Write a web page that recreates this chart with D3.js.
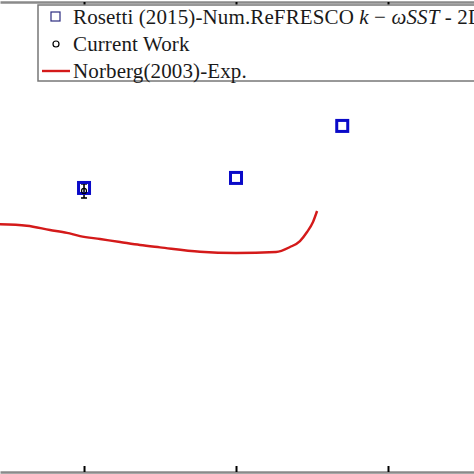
<!DOCTYPE html>
<html>
<head>
<meta charset="utf-8">
<script src="https://cdn.jsdelivr.net/npm/d3@7"></script>
<style>
    html, body { margin: 0; padding: 0; background: #fff; }
    svg { display: block; }
</style>
</head>
<body>
<svg id="chart"></svg>
<script>
// Norberg (2003) experimental curve
let norbergRe = [2800, 4200, 5970, 7730, 9410, 12740, 17260, 23360, 31620, 57940, 100000, 183300, 226500, 263500, 293300, 321000, 341400];
let norbergSt = [0.2081, 0.2072, 0.2045, 0.2026, 0.2006, 0.1987, 0.1968, 0.1949, 0.1934, 0.1906, 0.1898, 0.1904, 0.1936, 0.1974, 0.2032, 0.2096, 0.2166];

// Rosetti (2015) ReFRESCO k-w SST 2D
let rosettiRe = [10000, 100000, 500000];
let rosettiSt = [0.2313, 0.2377, 0.2709];

// current work
let currentRe = [10000];
let currentSt = [0.2294];
let currentErr = [0.0045];

let xTicks = [1e4, 1e5, 1e6];
let legendLabels = ["Rosetti (2015)-Num.ReFRESCO", "Current Work", "Norberg(2003)-Exp."];

window.onload = () =>
{
    let width = 474;
    let height = 474;
    let top = 2, bottom = 472;

    let x = d3.scaleLog([2800, 3.68e6], [0, width]);
    let y = d3.scaleLinear([0.05, 0.35], [bottom, top]);

    let svg = d3.select("#chart").attr("width", width).attr("height", height);

    // frame: top and bottom axes, ticks pointing in
    let axTop = svg.append("g").attr("transform", `translate(0,${top})`)
        .call(d3.axisTop(x).tickValues(xTicks).tickFormat("").tickSizeInner(-6).tickSizeOuter(0));
    let axBottom = svg.append("g").attr("transform", `translate(0,${bottom})`)
        .call(d3.axisBottom(x).tickValues(xTicks).tickFormat("").tickSizeInner(-6).tickSizeOuter(0));
    [axTop, axBottom].forEach(g =>
    {
        g.select(".domain").attr("stroke", "#8a8a8a").attr("stroke-width", 2.5);
        g.selectAll(".tick line").attr("stroke", "#000").attr("stroke-width", 2);
    });

    // Norberg line
    let norberg = norbergRe.map((r, i) => [r, norbergSt[i]]);
    svg.append("path")
        .datum(norberg)
        .attr("fill", "none")
        .attr("stroke", "#d41a1a")
        .attr("stroke-width", 2.4)
        .attr("d", d3.line().x(d => x(d[0])).y(d => y(d[1])).curve(d3.curveMonotoneX));

    // error bars of current work
    let cur = currentRe.map((r, i) => ({re: r, st: currentSt[i], err: currentErr[i]}));
    let eb = svg.append("g").attr("stroke", "#000").attr("stroke-width", 1.6);
    eb.selectAll("line.stem").data(cur).join("line")
        .attr("x1", d => x(d.re)).attr("x2", d => x(d.re))
        .attr("y1", d => y(d.st + d.err)).attr("y2", d => y(d.st - d.err));
    eb.selectAll("line.cap").data(cur.flatMap(d => [d.st + d.err, d.st - d.err].map(v => ({re: d.re, v}))))
        .join("line")
        .attr("x1", d => x(d.re) - 3).attr("x2", d => x(d.re) + 3)
        .attr("y1", d => y(d.v)).attr("y2", d => y(d.v));

    // Rosetti squares
    let ros = rosettiRe.map((r, i) => [r, rosettiSt[i]]);
    svg.append("g").selectAll("rect").data(ros).join("rect")
        .attr("x", d => x(d[0]) - 5.5)
        .attr("y", d => y(d[1]) - 5.5)
        .attr("width", 11).attr("height", 11)
        .attr("fill", "none")
        .attr("stroke", "#0a0ac8")
        .attr("stroke-width", 3);

    // current work circles
    svg.append("g").selectAll("circle").data(cur).join("circle")
        .attr("cx", d => x(d.re)).attr("cy", d => y(d.st))
        .attr("r", 2.5)
        .attr("fill", "none")
        .attr("stroke", "#000")
        .attr("stroke-width", 1.2);

    legend(svg);
};

function legend(svg)
{
    let g = svg.append("g");
    g.append("rect")
        .attr("x", 38).attr("y", 5)
        .attr("width", 500).attr("height", 76)
        .attr("fill", "#fff")
        .attr("stroke", "#777")
        .attr("stroke-width", 1.5);

    let rowY = [17, 44, 71];
    let textX = 73;

    g.append("rect").attr("x", 51).attr("y", rowY[0] - 5).attr("width", 9).attr("height", 9)
        .attr("fill", "none").attr("stroke", "#2c2c80").attr("stroke-width", 1.2);
    g.append("circle").attr("cx", 56).attr("cy", rowY[1]).attr("r", 3)
        .attr("fill", "none").attr("stroke", "#000").attr("stroke-width", 1.2);
    g.append("line").attr("x1", 42).attr("x2", 70).attr("y1", rowY[2]).attr("y2", rowY[2])
        .attr("stroke", "#d41a1a").attr("stroke-width", 2.4);

    let texts = g.selectAll("text").data(legendLabels).join("text")
        .attr("x", textX)
        .attr("y", (d, i) => rowY[i] + 7)
        .style("font-family", "'Liberation Serif', serif")
        .style("font-size", "21px")
        .style("letter-spacing", "0.12px")
        .attr("fill", "#1a1a1a")
        .text(d => d);

    let first = texts.filter((d, i) => i === 0);
    first.append("tspan").text(" ");
    first.append("tspan").style("font-style", "italic").text("k");
    first.append("tspan").text(" − ");
    first.append("tspan").style("font-style", "italic").text("ωSST");
    first.append("tspan").text(" - 2D");
}
</script>
</body>
</html>
